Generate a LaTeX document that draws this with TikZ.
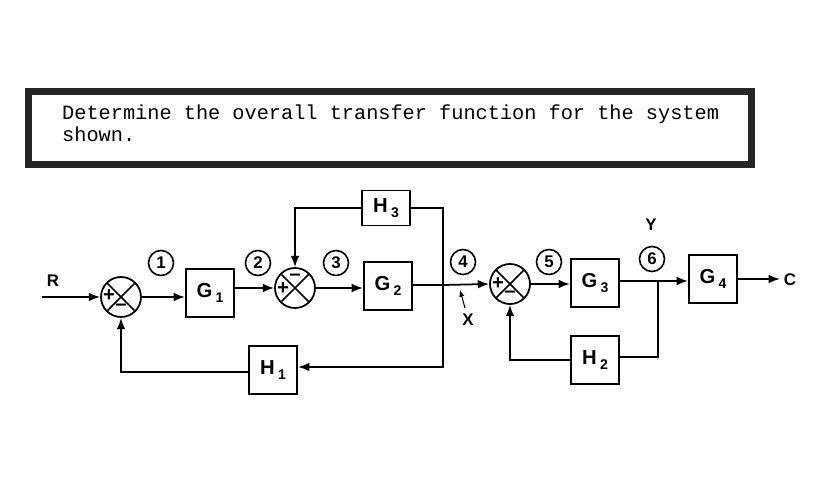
\documentclass[tikz,border=0pt]{standalone}
\usepackage{fontspec}
\setmainfont{Liberation Sans}
\newfontfamily\cour{Liberation Mono}
\usetikzlibrary{arrows.meta,calc}
\newcommand{\bsub}[2]{#1\,\raisebox{-0.45ex}{\large #2}}
\tikzset{
  blk/.style={draw,line width=1.5pt,minimum width=1.45cm,minimum height=1.45cm,font=\bfseries\LARGE,inner sep=0pt},
  hblk/.style={blk,minimum height=1.05cm},
  sumj/.style={draw,circle,line width=1.5pt,minimum size=1.2cm,inner sep=0pt,
    path picture={\draw[line width=1.5pt] (path picture bounding box.north west)--(path picture bounding box.south east)
      (path picture bounding box.north east)--(path picture bounding box.south west);}},
  num/.style={draw,circle,line width=1.4pt,minimum size=0.75cm,inner sep=0pt,font=\bfseries\Large},
  sig/.style={font=\bfseries\LARGE,inner sep=0pt},
  ln/.style={line width=1.5pt},
  ar/.style={ln,-{Latex[length=3.4mm,width=2.6mm]}},
  lbl/.style={font=\bfseries\Large},
}
\begin{document}
\begin{tikzpicture}[x=0.03cm,y=-0.03cm]
\useasboundingbox (0,0) rectangle (828,486);
\node[draw=black!85,line width=6pt,anchor=north west,inner sep=0pt,minimum width=21.7cm,minimum height=2.2cm] (hdr) at (25,88) {};
\node[anchor=west,align=left,font=\cour\fontsize{17.3}{19}\selectfont,inner sep=0pt] (txt) at (62,123) {Determine the overall transfer function for the system\\shown.};

\coordinate (rin) at (42,297);
\node[lbl] (R) at (53,281) {R};
\node[sumj] (s1) at (121,297) {};
\node[blk] (g1) at (210,293) {\bsub{G}{1}};
\node[sumj] (s2) at (295,288) {};
\node[blk] (g2) at (388,286) {\bsub{G}{2}};
\node[hblk] (h3) at (386,208) {\bsub{H}{3}};
\node[blk] (h1) at (273,370) {\bsub{H}{1}};
\node[sumj] (s3) at (510,284) {};
\node[blk] (g3) at (595,283) {\bsub{G}{3}};
\node[blk] (h2) at (595,360) {\bsub{H}{2}};
\node[blk] (g4) at (713,279) {\bsub{G}{4}};
\coordinate (out) at (780,279);
\node[lbl] (C) at (790,280) {C};

\node[num] (n1) at (161,263) {1};
\node[num] (n2) at (258,263) {2};
\node[num] (n3) at (336,263) {3};
\node[num] (n4) at (463,262) {4};
\node[num] (n5) at (549,262) {5};
\node[num] (n6) at (652,259) {6};
\node[lbl] (Y) at (651,225) {Y};
\node[lbl] (X) at (468,320) {X};
\coordinate (xa) at (460,290);

\node[sig] at ($(s1.center)+(-12,-1)$) {+};
\node[sig] at ($(s1.center)+(0,10)$) {--};
\node[sig] at ($(s2.center)+(-12,1)$) {+};
\node[sig] at ($(s2.center)+(0,-11)$) {--};
\node[sig] at ($(s3.center)+(-12,0)$) {+};
\node[sig] at ($(s3.center)+(0,10)$) {--};

\coordinate (j4) at (443,285);
\coordinate (j6) at (658,281);

\draw[ar] (rin) -- (s1);
\draw[ar] (s1) -- (g1.west|-s1);
\draw[ar] (g1.east|-s2) -- (s2);
\draw[ar] (s2) -- (g2.west|-s2);
\draw[ln] (g2.east|-j4) -- (j4);
\draw[ar] (j4) -- (s3.west);
\draw[ar] (s3) -- (g3.west|-s3);
\draw[ln] (g3.east|-j6) -- (j6);
\draw[ar] (j6) -- (g4.west|-j6);
\draw[ar] (g4) -- (out);
\draw[ar] (h3.west) -| (s2.north);
\draw[ln] (h3.east) -| (j4);
\draw[ar] (j4) |- (h1.east|-0,367);
\draw[ar] (h1.west|-0,372) -| (s1.south);
\draw[ln] (j6) |- (h2.east|-0,357);
\draw[ar] (h2.west) -| (s3.south);
\draw[line width=0.9pt,-{Latex[length=2mm,width=1.6mm]}] ($(X.north)+(-3,-2)$) -- (xa);
\end{tikzpicture}
\end{document}
